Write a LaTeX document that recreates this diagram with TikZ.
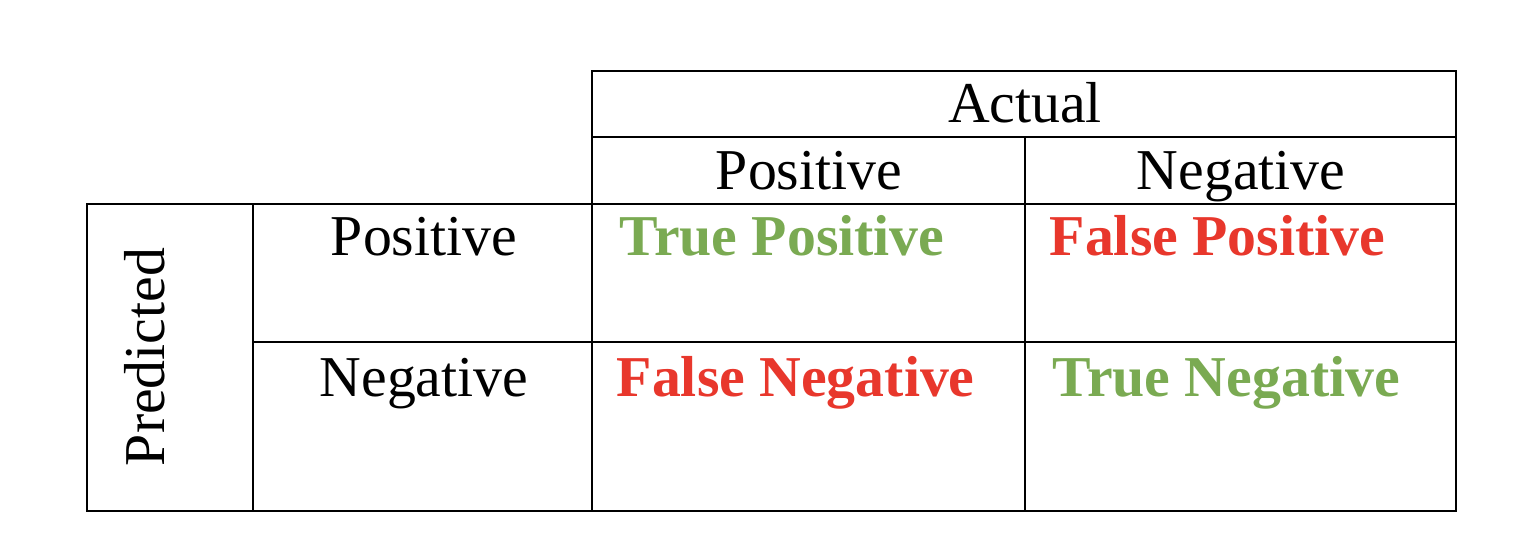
\documentclass[tikz,border=0pt]{standalone}
\usepackage{fontspec}
\setmainfont{Liberation Serif}
\definecolor{tgreen}{RGB}{122,170,82}
\definecolor{fred}{RGB}{232,55,44}
\begin{document}
\begin{tikzpicture}[x=1bp,y=-1bp,line width=1.5bp,
  lab/.style={font=\fontsize{58}{62}\selectfont,inner sep=0pt,anchor=base},
  cell/.style={font=\fontsize{58}{62}\selectfont\bfseries,inner sep=0pt,anchor=base west}]
\useasboundingbox (0,0) rectangle (1536,548);
\draw (592,71) rectangle (1456,204);
\draw (592,137) -- (1456,137);
\draw (1025,137) -- (1025,511);
\draw (87,204) rectangle (1456,511);
\draw (253,204) -- (253,511);
\draw (592,204) -- (592,511);
\draw (253,342) -- (1456,342);
\node[lab] (act) at (1025,123) {Actual};
\node[lab] (ap) at (809,190) {Positive};
\node[lab] (an) at (1241,190) {Negative};
\node[lab] (pp) at (424,256) {Positive};
\node[lab] (pn) at (424,396) {Negative};
\node[lab,anchor=center,rotate=90] (pred) at (145,357) {Predicted};
\node[cell,text=tgreen] (tp) at (619,256) {True Positive};
\node[cell,text=fred] (fp) at (1049,256) {False Positive};
\node[cell,text=fred] (fn) at (616,396) {False Negative};
\node[cell,text=tgreen] (tn) at (1052,396) {True Negative};
\end{tikzpicture}
\end{document}
